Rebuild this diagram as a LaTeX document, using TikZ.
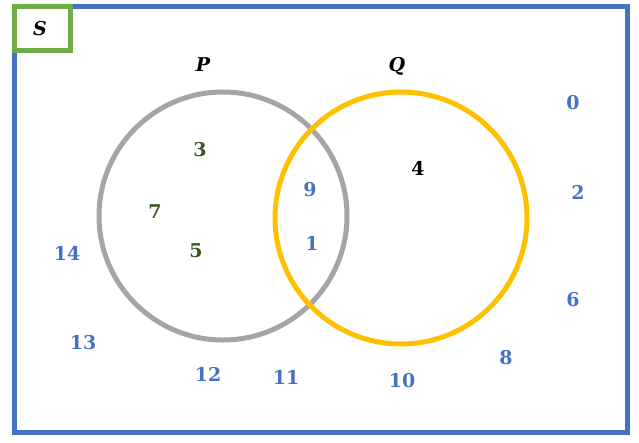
\documentclass[tikz,border=0pt]{standalone}
\usepackage{fontspec}
\setmainfont{DejaVu Serif}
\definecolor{oblue}{HTML}{4472C4}
\definecolor{ogreen}{HTML}{70AD47}
\definecolor{ogray}{HTML}{A5A5A5}
\definecolor{oorange}{HTML}{FFC000}
\definecolor{dgreen}{HTML}{375623}
\begin{document}
\begin{tikzpicture}[x=1pt,y=-1pt,
  lbl/.style={font=\fontsize{19}{22}\selectfont\bfseries\itshape, text=black},
  bnum/.style={font=\fontsize{19}{22}\selectfont\bfseries, text=oblue},
  gnum/.style={font=\fontsize{19}{22}\selectfont\bfseries, text=dgreen},
  knum/.style={font=\fontsize{19}{22}\selectfont\bfseries, text=black}]
\useasboundingbox (0,0) rectangle (639,442);
\draw[oblue, line width=5pt] (14,6.5) rectangle (627,432);
\draw[ogreen, line width=5pt] (14.5,6.5) rectangle (70.5,50.5);
\draw[ogray, line width=5pt] (223,216) circle (124);
\draw[oorange, line width=5pt] (401,218) circle (126);
\node[lbl] (S) at (40,29) {S};
\node[lbl] (P) at (203,65) {P};
\node[lbl] (Q) at (397,66) {Q};
\node[gnum] (n3) at (200,150) {3};
\node[gnum] (n7) at (155,212) {7};
\node[gnum] (n5) at (196,251) {5};
\node[bnum] (n9) at (310,190) {9};
\node[bnum] (n1) at (312,243) {1};
\node[knum] (n4) at (418,168) {4};
\node[bnum] (n0) at (573,103) {0};
\node[bnum] (n2) at (578,192) {2};
\node[bnum] (n6) at (573,300) {6};
\node[bnum] (n8) at (506,358) {8};
\node[bnum] (n10) at (402,381) {10};
\node[bnum] (n11) at (286,377) {11};
\node[bnum] (n12) at (208,374) {12};
\node[bnum] (n13) at (83,343) {13};
\node[bnum] (n14) at (67,253) {14};
\end{tikzpicture}
\end{document}
